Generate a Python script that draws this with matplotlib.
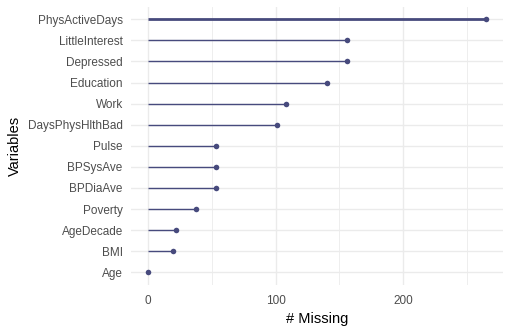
"""Lollipop chart of missing-value counts per variable."""

import matplotlib
matplotlib.use("Agg")
import matplotlib.pyplot as plt
from matplotlib.ticker import MultipleLocator

# --- Data (bottom to top) ---
variables = [
    "Age", "BMI", "AgeDecade", "Poverty", "BPDiaAve", "BPSysAve", "Pulse",
    "DaysPhysHlthBad", "Work", "Education", "Depressed", "LittleInterest",
    "PhysActiveDays",
]
n_missing = [0, 20, 22, 38, 53, 53, 53, 101, 108, 140, 156, 156, 265]

LINE_COLOR = "#474a7d"
GRID_COLOR = "#ebebeb"
TEXT_COLOR = "#4d4d4d"

plt.rcParams["font.family"] = ["Liberation Sans", "DejaVu Sans"]

fig = plt.figure(figsize=(5.10, 3.31), dpi=100)
ax = fig.add_axes([0.257, 0.139, 0.729, 0.841])

ypos = list(range(len(variables)))
for y, v in zip(ypos, n_missing):
    lw = 2.0 if v == max(n_missing) else 1.0
    ax.plot([0, v], [y, y], color=LINE_COLOR, linewidth=lw, zorder=2,
            solid_capstyle="butt")
ax.scatter(n_missing, ypos, s=16, color=LINE_COLOR, zorder=3, linewidths=0)

# --- Axes styling (theme_minimal look) ---
span = max(n_missing)
ax.set_xlim(-0.05 * span, 1.05 * span)
ax.set_ylim(-0.6, len(variables) - 1 + 0.6)
ax.set_yticks(ypos)
ax.set_yticklabels(variables)
ax.xaxis.set_major_locator(MultipleLocator(100))
ax.xaxis.set_minor_locator(MultipleLocator(50))

ax.grid(True, which="major", color=GRID_COLOR, linewidth=1.0, zorder=0)
ax.grid(True, which="minor", axis="x", color=GRID_COLOR, linewidth=0.6, zorder=0)
ax.set_axisbelow(True)
for s in ax.spines.values():
    s.set_visible(False)
ax.tick_params(axis="both", which="both", length=0, labelsize=8.5,
               labelcolor=TEXT_COLOR)
ax.tick_params(axis="x", pad=7)
ax.tick_params(axis="y", pad=6)

ax.set_xlabel("# Missing", fontsize=10.5, color="black", labelpad=4)
ax.set_ylabel("Variables", fontsize=10.5, color="black", labelpad=4)

fig.savefig("out.png", dpi=100, facecolor="white")
plt.close(fig)
